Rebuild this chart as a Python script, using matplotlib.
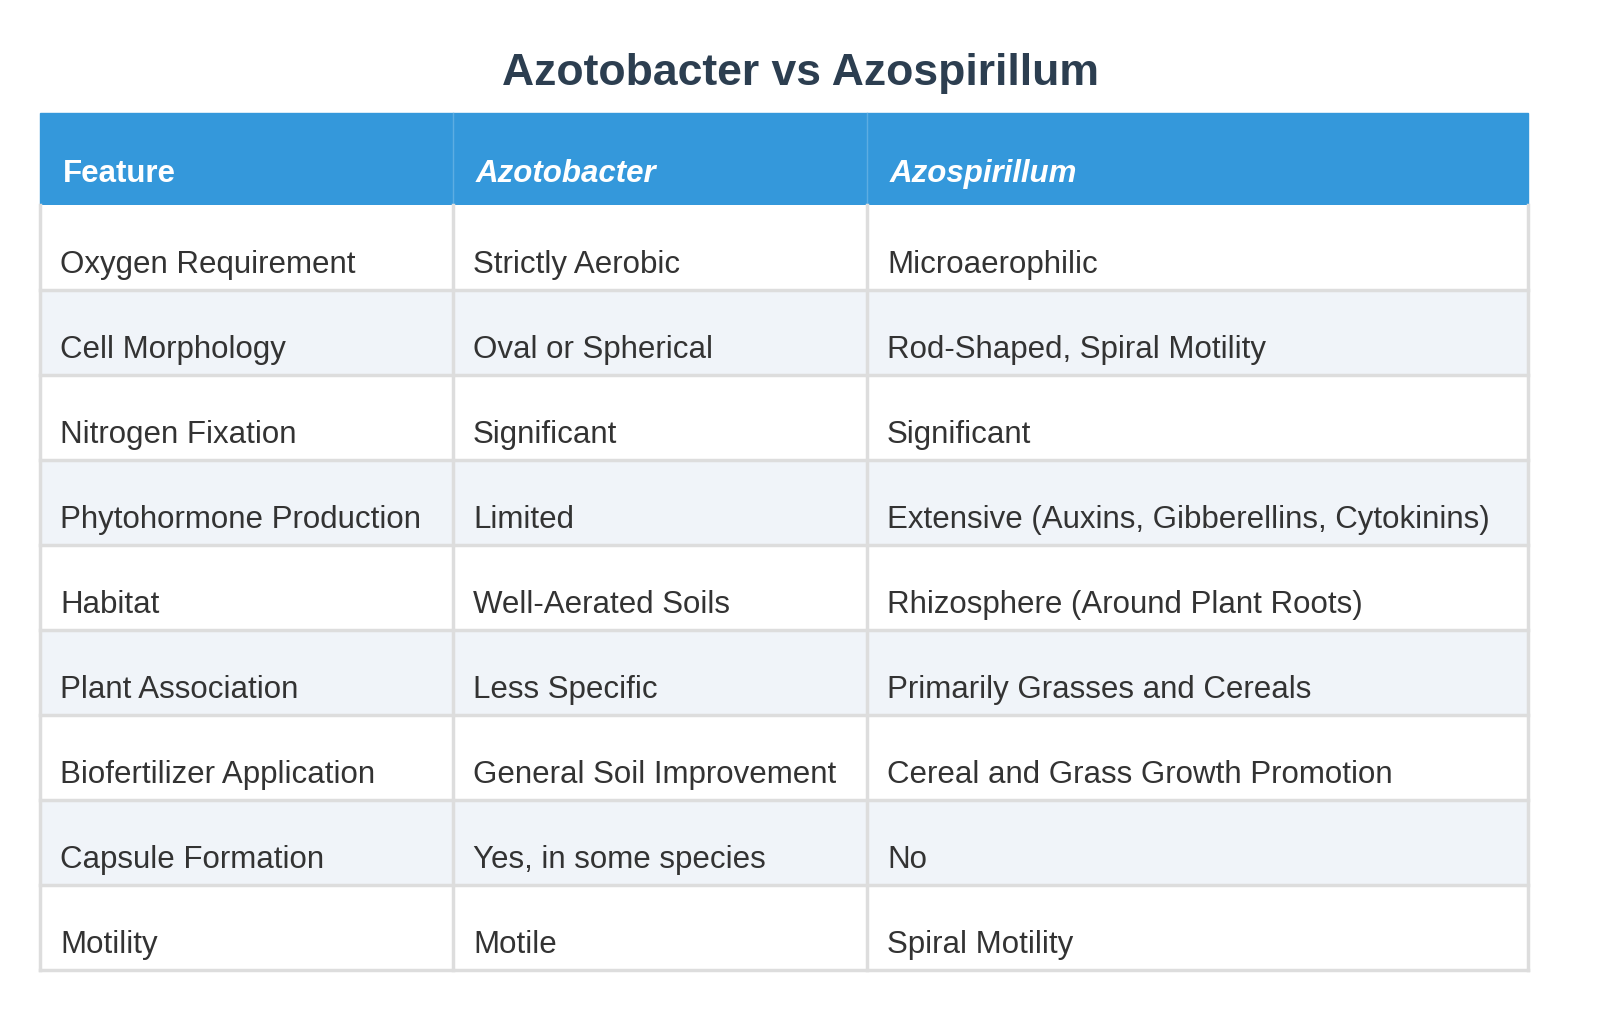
import matplotlib.pyplot as plt
from matplotlib.patches import Rectangle

plt.rcParams['font.family'] = ['Liberation Sans', 'DejaVu Sans']

title = "Azotobacter vs Azospirillum"
headers = ["Feature", "Azotobacter", "Azospirillum"]
features = ["Oxygen Requirement", "Cell Morphology", "Nitrogen Fixation",
            "Phytohormone Production", "Habitat", "Plant Association",
            "Biofertilizer Application", "Capsule Formation", "Motility"]
azotobacter = ["Strictly Aerobic", "Oval or Spherical", "Significant", "Limited",
               "Well-Aerated Soils", "Less Specific", "General Soil Improvement",
               "Yes, in some species", "Motile"]
azospirillum = ["Microaerophilic", "Rod-Shaped, Spiral Motility", "Significant",
                "Extensive (Auxins, Gibberellins, Cytokinins)",
                "Rhizosphere (Around Plant Roots)", "Primarily Grasses and Cereals",
                "Cereal and Grass Growth Promotion", "No", "Spiral Motility"]

W, H = 1600, 1032
fig = plt.figure(figsize=(W / 100, H / 100), dpi=100)
ax = fig.add_axes([0, 0, 1, 1])
ax.set_xlim(0, W)
ax.set_ylim(H, 0)
ax.axis('off')

col_x = [40, 453, 867, 1528]
head_top, head_bot = 113, 205
row_h = 85
border = '#dddddd'

ax.text(W / 2, 73, title, ha='center', va='center', fontsize=32,
        fontweight='bold', color='#2c3e50')

# header
ax.add_patch(Rectangle((col_x[0], head_top), col_x[-1] - col_x[0],
                       head_bot - head_top, color='#3498db', zorder=1))
for i, h in enumerate(headers):
    ax.text(col_x[i] + 23, head_top + 61, h, ha='left', va='center',
            fontsize=22.5, fontweight='bold', color='white',
            style='italic' if i > 0 else 'normal', zorder=3)
for x in col_x[1:-1]:
    ax.plot([x, x], [head_top, head_bot], color='#5dade2', lw=1, zorder=2)

# body
for r, row in enumerate(zip(features, azotobacter, azospirillum)):
    top = head_bot + r * row_h
    bg = 'white' if r % 2 == 0 else '#f0f4f9'
    ax.add_patch(Rectangle((col_x[0], top), col_x[-1] - col_x[0], row_h,
                           facecolor=bg, edgecolor='none', zorder=1))
    for c, val in enumerate(row):
        ax.text(col_x[c] + 20, top + 60, val, ha='left', va='center',
                fontsize=22.5, color='#333333', zorder=3)
    ax.plot([col_x[0], col_x[-1]], [top + row_h, top + row_h],
            color=border, lw=2.5, zorder=2)

bottom = head_bot + len(features) * row_h
for x in col_x:
    ax.plot([x, x], [head_bot, bottom], color=border, lw=2.5, zorder=2)

fig.savefig('out.png', dpi=100, facecolor='white')
